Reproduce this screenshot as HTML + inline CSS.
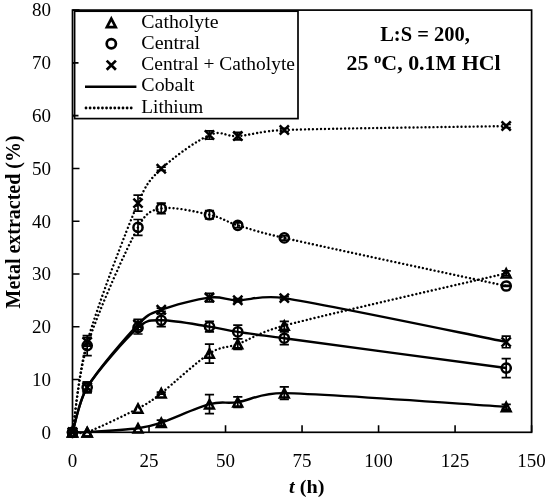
<!DOCTYPE html>
<html><head><meta charset="utf-8"><title>chart</title><style>html,body{margin:0;padding:0;background:#fff}svg{display:block}</style></head><body>
<svg width="550" height="498" viewBox="0 0 550 498">
<rect width="550" height="498" fill="#fff"/>
<rect x="72.50" y="10.10" width="459.10" height="422.20" fill="none" stroke="#000" stroke-width="1.7"/>
<path d="M72.50 432.30 h7 M72.50 379.53 h7 M72.50 326.75 h7 M72.50 273.98 h7 M72.50 221.20 h7 M72.50 168.43 h7 M72.50 115.65 h7 M72.50 62.88 h7 M72.50 10.10 h7 M72.50 432.30 v-7 M149.02 432.30 v-7 M225.53 432.30 v-7 M302.05 432.30 v-7 M378.57 432.30 v-7 M455.08 432.30 v-7 M531.60 432.30 v-7" stroke="#000" stroke-width="1.6" fill="none"/>
<path d="M72.50 432.30 C74.95 417.24 79.00 370.57 87.19 341.93 C98.11 303.73 125.65 231.98 138.00 203.13 C146.15 184.08 149.35 180.17 161.26 168.83 C173.17 157.48 196.71 140.50 209.46 135.05 C222.22 129.60 225.30 136.94 237.78 136.10 C250.25 135.27 260.86 130.91 284.30 130.04 C329.03 128.36 469.21 126.74 506.20 126.08" fill="none" stroke="#000" stroke-width="2.4" stroke-linecap="round" stroke-dasharray="0.01 4"/>
<path d="M72.50 432.30 C74.95 417.85 79.00 371.23 87.19 345.62 C98.11 311.47 125.65 250.27 138.00 227.41 C145.13 214.19 149.35 210.52 161.26 208.41 C173.17 206.30 196.71 211.92 209.46 214.74 C222.22 217.55 225.30 221.42 237.78 225.29 C250.25 229.16 260.78 232.64 284.30 237.96 C329.03 248.08 469.21 277.98 506.20 285.99" fill="none" stroke="#000" stroke-width="2.4" stroke-linecap="round" stroke-dasharray="0.01 4"/>
<path d="M72.50 432.30 C74.95 432.28 82.01 434.06 87.19 432.17 C98.11 428.19 125.65 414.93 138.00 408.42 C150.31 401.93 150.22 401.60 161.26 393.12 C173.17 383.97 196.71 361.72 209.46 353.54 C222.03 345.48 225.30 348.70 237.78 344.04 C250.25 339.38 260.10 331.94 284.30 325.57 C329.03 313.78 469.21 282.03 506.20 273.32" fill="none" stroke="#000" stroke-width="2.4" stroke-linecap="round" stroke-dasharray="0.01 4"/>
<path d="M72.50 432.30 C74.95 424.80 79.00 400.79 87.19 387.31 C98.11 369.35 125.65 337.44 138.00 324.51 C147.51 314.55 149.35 314.22 161.26 309.73 C173.17 305.25 196.71 299.18 209.46 297.60 C222.22 296.01 225.30 300.15 237.78 300.23 C250.25 300.32 261.29 294.55 284.30 298.12 C329.03 305.07 469.21 334.63 506.20 341.93" fill="none" stroke="#000" stroke-width="2.4"/>
<path d="M72.50 432.30 C74.95 424.80 79.00 400.39 87.19 387.31 C98.11 369.88 125.65 338.85 138.00 327.68 C147.05 319.49 149.35 320.47 161.26 320.29 C173.17 320.11 196.71 324.69 209.46 326.62 C222.22 328.56 225.30 329.96 237.78 331.90 C250.25 333.83 261.03 335.10 284.30 338.23 C329.03 344.26 469.21 363.08 506.20 368.05" fill="none" stroke="#000" stroke-width="2.4"/>
<path d="M72.50 432.30 C74.95 432.28 81.69 432.52 87.19 432.17 C98.11 431.49 125.65 429.80 138.00 428.21 C149.86 426.69 149.93 426.48 161.26 422.67 C173.17 418.67 196.71 407.63 209.46 404.20 C222.22 400.77 225.30 403.94 237.78 402.09 C250.25 400.24 260.61 392.70 284.30 393.12 C329.03 393.91 469.21 404.55 506.20 406.84" fill="none" stroke="#000" stroke-width="2.4"/>
<path d="M87.19 337.71 V346.15 M82.59 337.71 H91.79 M82.59 346.15 H91.79" fill="none" stroke="#000" stroke-width="1.7"/>
<path d="M138.00 195.21 V211.04 M133.40 195.21 H142.60 M133.40 211.04 H142.60" fill="none" stroke="#000" stroke-width="1.7"/>
<path d="M161.26 167.24 V170.41 M156.66 167.24 H165.86 M156.66 170.41 H165.86" fill="none" stroke="#000" stroke-width="1.7"/>
<path d="M209.46 130.83 V139.27 M204.86 130.83 H214.06 M204.86 139.27 H214.06" fill="none" stroke="#000" stroke-width="1.7"/>
<path d="M237.78 132.41 V139.80 M233.18 132.41 H242.38 M233.18 139.80 H242.38" fill="none" stroke="#000" stroke-width="1.7"/>
<path d="M284.30 128.45 V131.62 M279.70 128.45 H288.90 M279.70 131.62 H288.90" fill="none" stroke="#000" stroke-width="1.7"/>
<path d="M506.20 124.49 V127.66 M501.60 124.49 H510.80 M501.60 127.66 H510.80" fill="none" stroke="#000" stroke-width="1.7"/>
<path d="M67.90 427.70 L77.10 436.90 M67.90 436.90 L77.10 427.70" fill="none" stroke="#000" stroke-width="2.5"/>
<path d="M82.59 337.33 L91.79 346.53 M82.59 346.53 L91.79 337.33" fill="none" stroke="#000" stroke-width="2.5"/>
<path d="M133.40 198.53 L142.60 207.73 M133.40 207.73 L142.60 198.53" fill="none" stroke="#000" stroke-width="2.5"/>
<path d="M156.66 164.23 L165.86 173.43 M156.66 173.43 L165.86 164.23" fill="none" stroke="#000" stroke-width="2.5"/>
<path d="M204.86 130.45 L214.06 139.65 M204.86 139.65 L214.06 130.45" fill="none" stroke="#000" stroke-width="2.5"/>
<path d="M233.18 131.50 L242.38 140.70 M233.18 140.70 L242.38 131.50" fill="none" stroke="#000" stroke-width="2.5"/>
<path d="M279.70 125.44 L288.90 134.64 M279.70 134.64 L288.90 125.44" fill="none" stroke="#000" stroke-width="2.5"/>
<path d="M501.60 121.48 L510.80 130.68 M501.60 130.68 L510.80 121.48" fill="none" stroke="#000" stroke-width="2.5"/>
<path d="M87.19 335.59 V355.65 M82.59 335.59 H91.79 M82.59 355.65 H91.79" fill="none" stroke="#000" stroke-width="1.7"/>
<path d="M138.00 219.49 V235.32 M133.40 219.49 H142.60 M133.40 235.32 H142.60" fill="none" stroke="#000" stroke-width="1.7"/>
<path d="M161.26 203.13 V213.68 M156.66 203.13 H165.86 M156.66 213.68 H165.86" fill="none" stroke="#000" stroke-width="1.7"/>
<path d="M209.46 210.52 V218.96 M204.86 210.52 H214.06 M204.86 218.96 H214.06" fill="none" stroke="#000" stroke-width="1.7"/>
<path d="M237.78 222.92 V227.67 M233.18 222.92 H242.38 M233.18 227.67 H242.38" fill="none" stroke="#000" stroke-width="1.7"/>
<path d="M284.30 235.85 V240.07 M279.70 235.85 H288.90 M279.70 240.07 H288.90" fill="none" stroke="#000" stroke-width="1.7"/>
<path d="M506.20 285.46 V286.51 M501.60 285.46 H510.80 M501.60 286.51 H510.80" fill="none" stroke="#000" stroke-width="1.7"/>
<circle cx="72.50" cy="432.30" r="4.60" fill="none" stroke="#000" stroke-width="2.5"/>
<circle cx="87.19" cy="345.62" r="4.60" fill="none" stroke="#000" stroke-width="2.5"/>
<circle cx="138.00" cy="227.41" r="4.60" fill="none" stroke="#000" stroke-width="2.5"/>
<circle cx="161.26" cy="208.41" r="4.60" fill="none" stroke="#000" stroke-width="2.5"/>
<circle cx="209.46" cy="214.74" r="4.60" fill="none" stroke="#000" stroke-width="2.5"/>
<circle cx="237.78" cy="225.29" r="4.60" fill="none" stroke="#000" stroke-width="2.5"/>
<circle cx="284.30" cy="237.96" r="4.60" fill="none" stroke="#000" stroke-width="2.5"/>
<circle cx="506.20" cy="285.99" r="4.60" fill="none" stroke="#000" stroke-width="2.5"/>
<path d="M161.26 392.06 V394.17 M156.66 392.06 H165.86 M156.66 394.17 H165.86" fill="none" stroke="#000" stroke-width="1.7"/>
<path d="M209.46 344.04 V363.04 M204.86 344.04 H214.06 M204.86 363.04 H214.06" fill="none" stroke="#000" stroke-width="1.7"/>
<path d="M237.78 338.76 V349.32 M233.18 338.76 H242.38 M233.18 349.32 H242.38" fill="none" stroke="#000" stroke-width="1.7"/>
<path d="M284.30 321.34 V329.79 M279.70 321.34 H288.90 M279.70 329.79 H288.90" fill="none" stroke="#000" stroke-width="1.7"/>
<path d="M506.20 270.94 V275.69 M501.60 270.94 H510.80 M501.60 275.69 H510.80" fill="none" stroke="#000" stroke-width="1.7"/>
<path d="M72.50 428.20 L76.90 436.60 L68.10 436.60 Z" fill="none" stroke="#000" stroke-width="2.5" stroke-linejoin="miter"/>
<path d="M87.19 428.07 L91.59 436.47 L82.79 436.47 Z" fill="none" stroke="#000" stroke-width="2.5" stroke-linejoin="miter"/>
<path d="M138.00 404.32 L142.40 412.72 L133.60 412.72 Z" fill="none" stroke="#000" stroke-width="2.5" stroke-linejoin="miter"/>
<path d="M161.26 389.02 L165.66 397.42 L156.86 397.42 Z" fill="none" stroke="#000" stroke-width="2.5" stroke-linejoin="miter"/>
<path d="M209.46 349.44 L213.86 357.84 L205.06 357.84 Z" fill="none" stroke="#000" stroke-width="2.5" stroke-linejoin="miter"/>
<path d="M237.78 339.94 L242.18 348.34 L233.38 348.34 Z" fill="none" stroke="#000" stroke-width="2.5" stroke-linejoin="miter"/>
<path d="M284.30 321.47 L288.70 329.87 L279.90 329.87 Z" fill="none" stroke="#000" stroke-width="2.5" stroke-linejoin="miter"/>
<path d="M506.20 269.22 L510.60 277.62 L501.80 277.62 Z" fill="none" stroke="#000" stroke-width="2.5" stroke-linejoin="miter"/>
<path d="M87.19 382.04 V392.59 M82.59 382.04 H91.79 M82.59 392.59 H91.79" fill="none" stroke="#000" stroke-width="1.7"/>
<path d="M138.00 319.23 V329.79 M133.40 319.23 H142.60 M133.40 329.79 H142.60" fill="none" stroke="#000" stroke-width="1.7"/>
<path d="M161.26 308.15 V311.32 M156.66 308.15 H165.86 M156.66 311.32 H165.86" fill="none" stroke="#000" stroke-width="1.7"/>
<path d="M209.46 293.37 V301.82 M204.86 293.37 H214.06 M204.86 301.82 H214.06" fill="none" stroke="#000" stroke-width="1.7"/>
<path d="M237.78 298.65 V301.82 M233.18 298.65 H242.38 M233.18 301.82 H242.38" fill="none" stroke="#000" stroke-width="1.7"/>
<path d="M284.30 296.54 V299.71 M279.70 296.54 H288.90 M279.70 299.71 H288.90" fill="none" stroke="#000" stroke-width="1.7"/>
<path d="M506.20 336.12 V347.73 M501.60 336.12 H510.80 M501.60 347.73 H510.80" fill="none" stroke="#000" stroke-width="1.7"/>
<path d="M67.90 427.70 L77.10 436.90 M67.90 436.90 L77.10 427.70" fill="none" stroke="#000" stroke-width="2.5"/>
<path d="M82.59 382.71 L91.79 391.91 M82.59 391.91 L91.79 382.71" fill="none" stroke="#000" stroke-width="2.5"/>
<path d="M133.40 319.91 L142.60 329.11 M133.40 329.11 L142.60 319.91" fill="none" stroke="#000" stroke-width="2.5"/>
<path d="M156.66 305.13 L165.86 314.33 M156.66 314.33 L165.86 305.13" fill="none" stroke="#000" stroke-width="2.5"/>
<path d="M204.86 293.00 L214.06 302.20 M204.86 302.20 L214.06 293.00" fill="none" stroke="#000" stroke-width="2.5"/>
<path d="M233.18 295.63 L242.38 304.83 M233.18 304.83 L242.38 295.63" fill="none" stroke="#000" stroke-width="2.5"/>
<path d="M279.70 293.52 L288.90 302.72 M279.70 302.72 L288.90 293.52" fill="none" stroke="#000" stroke-width="2.5"/>
<path d="M501.60 337.33 L510.80 346.53 M501.60 346.53 L510.80 337.33" fill="none" stroke="#000" stroke-width="2.5"/>
<path d="M87.19 382.04 V392.59 M82.59 382.04 H91.79 M82.59 392.59 H91.79" fill="none" stroke="#000" stroke-width="1.7"/>
<path d="M138.00 321.34 V334.01 M133.40 321.34 H142.60 M133.40 334.01 H142.60" fill="none" stroke="#000" stroke-width="1.7"/>
<path d="M161.26 313.96 V326.62 M156.66 313.96 H165.86 M156.66 326.62 H165.86" fill="none" stroke="#000" stroke-width="1.7"/>
<path d="M209.46 321.34 V331.90 M204.86 321.34 H214.06 M204.86 331.90 H214.06" fill="none" stroke="#000" stroke-width="1.7"/>
<path d="M237.78 325.04 V338.76 M233.18 325.04 H242.38 M233.18 338.76 H242.38" fill="none" stroke="#000" stroke-width="1.7"/>
<path d="M284.30 331.90 V344.57 M279.70 331.90 H288.90 M279.70 344.57 H288.90" fill="none" stroke="#000" stroke-width="1.7"/>
<path d="M506.20 358.55 V377.55 M501.60 358.55 H510.80 M501.60 377.55 H510.80" fill="none" stroke="#000" stroke-width="1.7"/>
<circle cx="72.50" cy="432.30" r="4.60" fill="none" stroke="#000" stroke-width="2.5"/>
<circle cx="87.19" cy="387.31" r="4.60" fill="none" stroke="#000" stroke-width="2.5"/>
<circle cx="138.00" cy="327.68" r="4.60" fill="none" stroke="#000" stroke-width="2.5"/>
<circle cx="161.26" cy="320.29" r="4.60" fill="none" stroke="#000" stroke-width="2.5"/>
<circle cx="209.46" cy="326.62" r="4.60" fill="none" stroke="#000" stroke-width="2.5"/>
<circle cx="237.78" cy="331.90" r="4.60" fill="none" stroke="#000" stroke-width="2.5"/>
<circle cx="284.30" cy="338.23" r="4.60" fill="none" stroke="#000" stroke-width="2.5"/>
<circle cx="506.20" cy="368.05" r="4.60" fill="none" stroke="#000" stroke-width="2.5"/>
<path d="M161.26 420.03 V425.31 M156.66 420.03 H165.86 M156.66 425.31 H165.86" fill="none" stroke="#000" stroke-width="1.7"/>
<path d="M209.46 394.70 V413.70 M204.86 394.70 H214.06 M204.86 413.70 H214.06" fill="none" stroke="#000" stroke-width="1.7"/>
<path d="M237.78 396.81 V407.37 M233.18 396.81 H242.38 M233.18 407.37 H242.38" fill="none" stroke="#000" stroke-width="1.7"/>
<path d="M284.30 386.79 V399.45 M279.70 386.79 H288.90 M279.70 399.45 H288.90" fill="none" stroke="#000" stroke-width="1.7"/>
<path d="M506.20 404.47 V409.22 M501.60 404.47 H510.80 M501.60 409.22 H510.80" fill="none" stroke="#000" stroke-width="1.7"/>
<path d="M72.50 428.20 L76.90 436.60 L68.10 436.60 Z" fill="none" stroke="#000" stroke-width="2.5" stroke-linejoin="miter"/>
<path d="M87.19 428.07 L91.59 436.47 L82.79 436.47 Z" fill="none" stroke="#000" stroke-width="2.5" stroke-linejoin="miter"/>
<path d="M138.00 424.11 L142.40 432.51 L133.60 432.51 Z" fill="none" stroke="#000" stroke-width="2.5" stroke-linejoin="miter"/>
<path d="M161.26 418.57 L165.66 426.97 L156.86 426.97 Z" fill="none" stroke="#000" stroke-width="2.5" stroke-linejoin="miter"/>
<path d="M209.46 400.10 L213.86 408.50 L205.06 408.50 Z" fill="none" stroke="#000" stroke-width="2.5" stroke-linejoin="miter"/>
<path d="M237.78 397.99 L242.18 406.39 L233.38 406.39 Z" fill="none" stroke="#000" stroke-width="2.5" stroke-linejoin="miter"/>
<path d="M284.30 389.02 L288.70 397.42 L279.90 397.42 Z" fill="none" stroke="#000" stroke-width="2.5" stroke-linejoin="miter"/>
<path d="M506.20 402.74 L510.60 411.14 L501.80 411.14 Z" fill="none" stroke="#000" stroke-width="2.5" stroke-linejoin="miter"/>
<rect x="74.60" y="11.20" width="223.40" height="107.40" fill="#fff" stroke="#000" stroke-width="1.7"/>
<path d="M72.50 62.88 h6 M72.50 115.65 h6" stroke="#000" stroke-width="1.6"/>
<path d="M111.30 18.70 L115.70 27.10 L106.90 27.10 Z" fill="#fff" stroke="#000" stroke-width="2.7" stroke-linejoin="miter"/>
<circle cx="111.30" cy="43.80" r="4.60" fill="#fff" stroke="#000" stroke-width="2.7"/>
<path d="M106.70 60.60 L115.90 69.80 M106.70 69.80 L115.90 60.60" fill="none" stroke="#000" stroke-width="2.7"/>
<path d="M85 86.70 H136.4" stroke="#000" stroke-width="2.6"/>
<path d="M86 108.00 H134" stroke="#000" stroke-width="2.8" stroke-linecap="round" stroke-dasharray="0.01 4.1"/>
<text x="141.3" y="27.70" font-family="'Liberation Serif',serif" font-size="19" fill="#000" textLength="77.3" lengthAdjust="spacingAndGlyphs" class="lg">Catholyte</text>
<text x="141.3" y="48.90" font-family="'Liberation Serif',serif" font-size="19" fill="#000" textLength="58.9" lengthAdjust="spacingAndGlyphs" class="lg">Central</text>
<text x="141.3" y="70.10" font-family="'Liberation Serif',serif" font-size="19" fill="#000" textLength="153.7" lengthAdjust="spacingAndGlyphs" class="lg">Central + Catholyte</text>
<text x="141.3" y="91.40" font-family="'Liberation Serif',serif" font-size="19" fill="#000" textLength="53.3" lengthAdjust="spacingAndGlyphs" class="lg">Cobalt</text>
<text x="141.3" y="112.50" font-family="'Liberation Serif',serif" font-size="19" fill="#000" textLength="62.0" lengthAdjust="spacingAndGlyphs" class="lg">Lithium</text>
<text x="425.1" y="41.2" font-family="'Liberation Serif',serif" font-size="21.5" font-weight="bold" text-anchor="middle" textLength="89.8" lengthAdjust="spacingAndGlyphs" class="an1">L:S = 200,</text>
<g transform="translate(423.6 69.5) scale(1.02 1)"><text x="0" y="0" font-family="'Liberation Serif',serif" font-size="21.5" font-weight="bold" text-anchor="middle" class="an2">25 <tspan font-size="14.5" dy="-6.5">o</tspan><tspan dy="6.5">C, 0.1M HCl</tspan></text></g>
<text x="51" y="438.65" font-family="'Liberation Serif',serif" font-size="19" text-anchor="end" class="yt">0</text>
<text x="51" y="385.88" font-family="'Liberation Serif',serif" font-size="19" text-anchor="end" class="yt">10</text>
<text x="51" y="333.10" font-family="'Liberation Serif',serif" font-size="19" text-anchor="end" class="yt">20</text>
<text x="51" y="280.33" font-family="'Liberation Serif',serif" font-size="19" text-anchor="end" class="yt">30</text>
<text x="51" y="227.55" font-family="'Liberation Serif',serif" font-size="19" text-anchor="end" class="yt">40</text>
<text x="51" y="174.78" font-family="'Liberation Serif',serif" font-size="19" text-anchor="end" class="yt">50</text>
<text x="51" y="122.00" font-family="'Liberation Serif',serif" font-size="19" text-anchor="end" class="yt">60</text>
<text x="51" y="69.22" font-family="'Liberation Serif',serif" font-size="19" text-anchor="end" class="yt">70</text>
<text x="51" y="16.45" font-family="'Liberation Serif',serif" font-size="19" text-anchor="end" class="yt">80</text>
<text x="72.50" y="467.4" font-family="'Liberation Serif',serif" font-size="19" text-anchor="middle" class="xt">0</text>
<text x="149.02" y="467.4" font-family="'Liberation Serif',serif" font-size="19" text-anchor="middle" class="xt">25</text>
<text x="225.53" y="467.4" font-family="'Liberation Serif',serif" font-size="19" text-anchor="middle" class="xt">50</text>
<text x="302.05" y="467.4" font-family="'Liberation Serif',serif" font-size="19" text-anchor="middle" class="xt">75</text>
<text x="378.57" y="467.4" font-family="'Liberation Serif',serif" font-size="19" text-anchor="middle" class="xt">100</text>
<text x="455.08" y="467.4" font-family="'Liberation Serif',serif" font-size="19" text-anchor="middle" class="xt">125</text>
<text x="531.60" y="467.4" font-family="'Liberation Serif',serif" font-size="19" text-anchor="middle" class="xt">150</text>
<g transform="translate(306.8 492.7) scale(1.095 1)"><text x="0" y="0" font-family="'Liberation Serif',serif" font-size="18.5" font-weight="bold" text-anchor="middle" class="xl"><tspan font-style="italic">t</tspan> (h)</text></g>
<text transform="translate(20.1 308.4) rotate(-90)" font-family="'Liberation Serif',serif" font-size="20" font-weight="bold" textLength="173" lengthAdjust="spacingAndGlyphs" class="yl">Metal extracted (%)</text>
</svg>
</body></html>
